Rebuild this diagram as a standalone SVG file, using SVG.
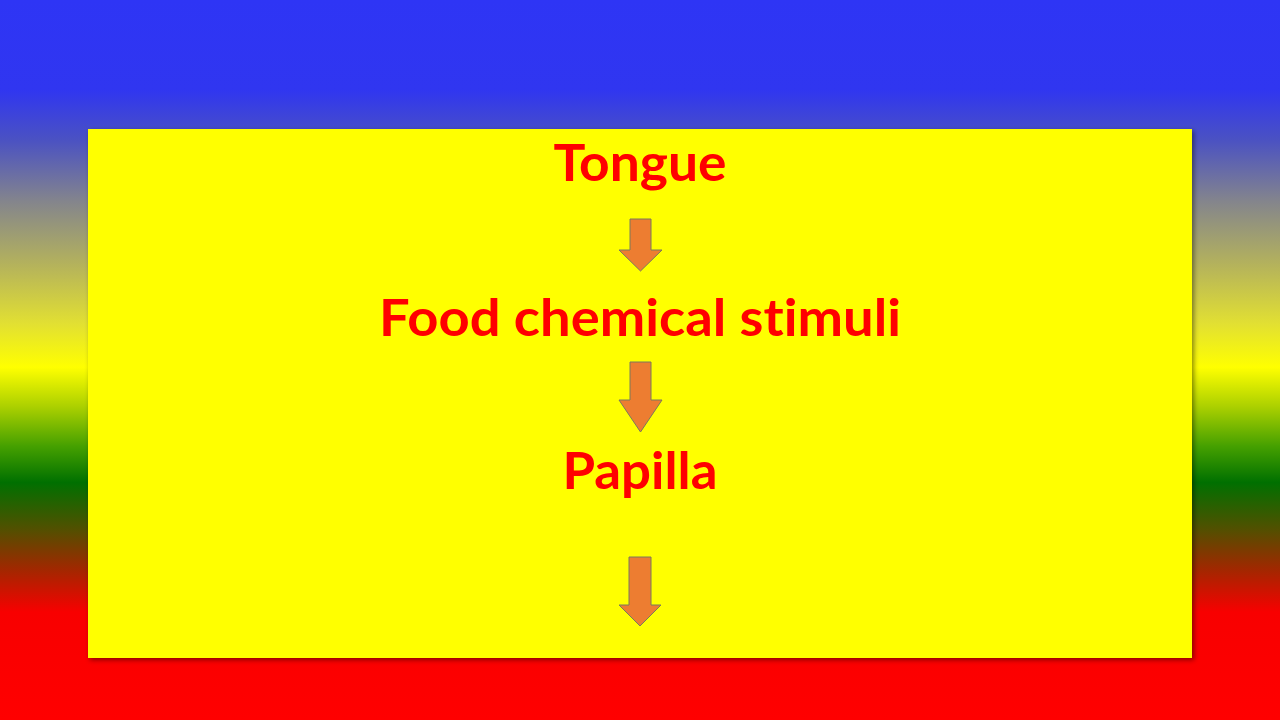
<svg xmlns="http://www.w3.org/2000/svg" width="1280" height="720" viewBox="0 0 1280 720">
  <defs>
    <linearGradient id="bg" x1="0" y1="0" x2="0" y2="720" gradientUnits="userSpaceOnUse">
      <stop offset="0" stop-color="#2E35F5"/>
      <stop offset="0.125" stop-color="#3036F0"/>
      <stop offset="0.195" stop-color="#4B52C2"/>
      <stop offset="0.28" stop-color="#84858C"/>
      <stop offset="0.367" stop-color="#B4B25C"/>
      <stop offset="0.45" stop-color="#E2E032"/>
      <stop offset="0.51" stop-color="#FFFF00"/>
      <stop offset="0.565" stop-color="#ABD000"/>
      <stop offset="0.62" stop-color="#45A000"/>
      <stop offset="0.67" stop-color="#007000"/>
      <stop offset="0.735" stop-color="#525000"/>
      <stop offset="0.79" stop-color="#A02800"/>
      <stop offset="0.85" stop-color="#F80000"/>
      <stop offset="1" stop-color="#FF0000"/>
    </linearGradient>
    <filter id="shadow" x="-5%" y="-5%" width="110%" height="110%">
      <feDropShadow dx="2" dy="2" stdDeviation="2.5" flood-color="#000" flood-opacity="0.45"/>
    </filter>
  </defs>
  <style>
    .label { font-family: "Lato", "Open Sans", "Liberation Sans", sans-serif; font-weight: bold; fill: #FF0000; font-size: 52px; text-anchor: middle; font-variant-ligatures: none; font-feature-settings: "liga" 0, "clig" 0; }
    .arrow { fill: #ED7D31; stroke: #7A7A5A; stroke-width: 1; stroke-linejoin: miter; }
  </style>
  <rect x="0" y="0" width="1280" height="720" fill="url(#bg)"/>
  <rect id="panel" x="88" y="129" width="1104" height="529" fill="#FFFF00" filter="url(#shadow)"/>

  <g id="node-tongue">
    <text class="label" x="640" y="181" textLength="173" lengthAdjust="spacingAndGlyphs">Tongue</text>
  </g>
  <g id="node-food">
    <text class="label" x="640" y="336" textLength="522" lengthAdjust="spacingAndGlyphs">Food chemical stimuli</text>
  </g>
  <g id="node-papilla">
    <text class="label" x="640" y="489" textLength="155" lengthAdjust="spacingAndGlyphs">Papilla</text>
  </g>

  <g id="connectors">
    <polygon class="arrow" points="630,219 651,219 651,250 662,250 640.5,271 619,250 630,250"/>
    <polygon class="arrow" points="630,362 651,362 651,400 662,400 640.5,432 619,400 630,400"/>
    <polygon class="arrow" points="629,557 651,557 651,605 661,605 640,626 619,605 629,605"/>
  </g>
</svg>
